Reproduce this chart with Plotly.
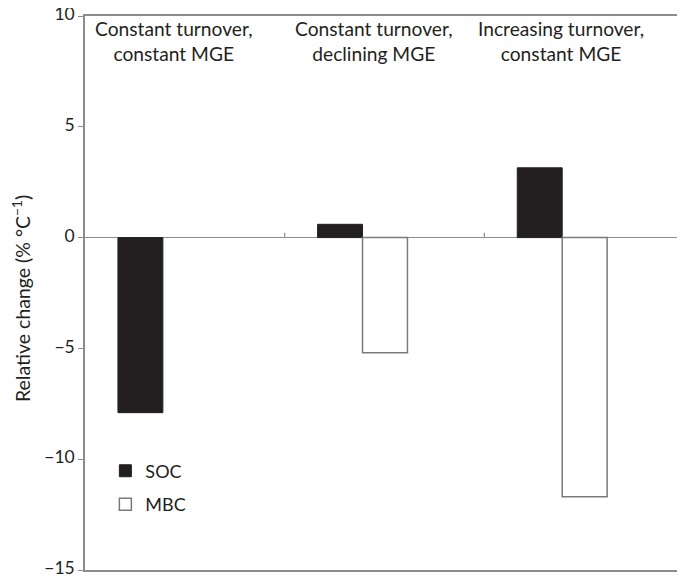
import plotly.graph_objects as go

categories = ["Constant turnover,<br>constant MGE",
              "Constant turnover,<br>declining MGE",
              "Increasing turnover,<br>constant MGE"]
soc = [-7.9, 0.6, 3.15]
mbc = [None, -5.2, -11.7]
y_ticks = [-15, -10, -5, 0, 5, 10]
y_title = "Relative change (% °C<sup>−1</sup>)"

FONT = "Lato"
TXT = "#231f20"
GRAY = "#8c8c8c"

x_idx = list(range(len(categories)))

fig = go.Figure()
fig.add_trace(go.Bar(
    x=x_idx, y=soc, name="SOC", legendgroup="a",
    offset=-0.335, width=0.225,
    marker=dict(color="#231f20", line=dict(color="#231f20", width=1)),
))
fig.add_trace(go.Bar(
    x=x_idx, y=mbc, name="MBC", legendgroup="b",
    offset=-0.11, width=0.225,
    marker=dict(color="white", line=dict(color="#7a7a7a", width=1.5)),
))

# category labels inside the top of the plot
label_shift = [-0.055, -0.055, -0.115]
for i, (c, s) in enumerate(zip(categories, label_shift)):
    fig.add_annotation(x=i + s, y=10, xref="x", yref="y", text=c,
                       showarrow=False, yanchor="top", xanchor="center",
                       yshift=1, align="center",
                       font=dict(family=FONT, size=19.2, color=TXT))

# y-axis title
fig.add_annotation(x=-0.106, y=0.49, xref="paper", yref="paper", text=y_title,
                   showarrow=False, textangle=-90, xanchor="center", yanchor="middle",
                   font=dict(family=FONT, size=19.5, color=TXT))

# small category-separator ticks on the zero line
for b in [0.5, 1.5]:
    fig.add_shape(type="line", x0=b, x1=b, y0=0, y1=0.22, xref="x", yref="y",
                  line=dict(color=GRAY, width=1.2))

fig.update_layout(
    width=677, height=574,
    margin=dict(l=77, r=1, t=8, b=12, autoexpand=False),
    paper_bgcolor="white", plot_bgcolor="white",
    showlegend=True,
    legend=dict(x=0.034, y=0.212, xanchor="left", yanchor="top",
                font=dict(family=FONT, size=18, color=TXT),
                traceorder="grouped", tracegroupgap=7,
                bgcolor="rgba(0,0,0,0)"),
    font=dict(family=FONT, size=18, color=TXT),
)
fig.update_xaxes(range=[-0.5, 2.5], showticklabels=False, ticks="",
                 showgrid=False, zeroline=False, automargin=False,
                 showline=True, mirror=True, linecolor=GRAY, linewidth=1.5)
fig.update_yaxes(range=[-15, 10], tickvals=y_ticks, ticks="outside", ticklen=5,
                 tickcolor=GRAY, tickwidth=1.2, ticklabeloverflow="allow",
                 ticklabelshift=-2, automargin=False,
                 showgrid=False, zeroline=True, zerolinecolor=GRAY, zerolinewidth=1.2,
                 showline=True, mirror=True, linecolor=GRAY, linewidth=1.5,
                 tickfont=dict(family=FONT, size=17.5, color=TXT))

fig.write_html("out.html")
